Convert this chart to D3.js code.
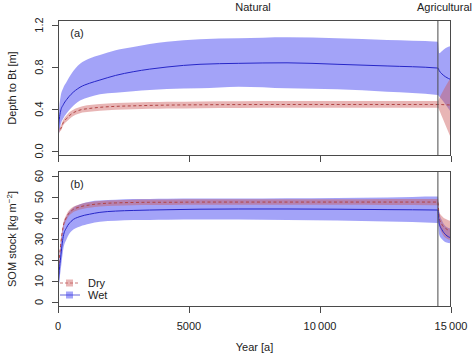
<!DOCTYPE html>
<html><head><meta charset="utf-8">
<script src="https://cdn.jsdelivr.net/npm/d3@7"></script>
<style>body{margin:0;background:#fff}svg{display:block;font-family:"Liberation Sans",Arial,sans-serif}</style>
</head><body>
<script>
const years = [0,20,50,100,200,330,500,840,1200,1600,2200,2870,3500,4160,5420,6900,8740,10650,12560,14500,14550,14650,14800,15000];
// Depth to Bt [m]
const wetDepthMean  = [0,0.20,0.30,0.38,0.44,0.49,0.54,0.607,0.645,0.676,0.72,0.755,0.78,0.80,0.826,0.835,0.84,0.826,0.81,0.79,0.765,0.735,0.705,0.68];
const wetDepthUpper = [0,0.30,0.42,0.52,0.60,0.66,0.73,0.83,0.88,0.914,0.96,0.99,1.02,1.04,1.064,1.073,1.083,1.073,1.057,1.04,0.93,0.95,0.98,1.0];
const wetDepthLower = [0,0.12,0.18,0.25,0.31,0.36,0.41,0.48,0.515,0.54,0.555,0.57,0.58,0.59,0.597,0.612,0.597,0.587,0.565,0.533,0.52,0.49,0.44,0.37];
const dryDepthMean  = [0,0.17,0.20,0.21,0.27,0.31,0.35,0.39,0.405,0.416,0.425,0.43,0.434,0.437,0.44,0.442,0.443,0.443,0.443,0.443,0.443,0.442,0.44,0.438];
const dryDepthUpper = [0,0.18,0.215,0.235,0.295,0.34,0.38,0.42,0.437,0.448,0.457,0.462,0.466,0.469,0.472,0.474,0.475,0.475,0.475,0.475,0.50,0.55,0.62,0.70];
const dryDepthLower = [0,0.16,0.185,0.19,0.245,0.28,0.32,0.36,0.373,0.384,0.393,0.398,0.402,0.405,0.408,0.41,0.411,0.411,0.411,0.411,0.39,0.33,0.24,0.12];
// SOM stock [kg m-2]
const wetSomMean  = [0,9,15,21,31.2,35.5,38.4,40.7,41.8,42.7,43.3,43.6,43.8,43.95,44.2,44.3,44.3,44.2,44.0,43.8,37.5,34.5,32,30.5];
const wetSomUpper = [0,12,20,27.5,36.5,41,44,46.5,47.8,48.3,48.7,49,49.1,49.2,49.3,49.3,49.4,49.5,49.8,50.3,43,39,36,35];
const wetSomLower = [0,6,10,15,25,30,33.6,36,37.3,38.2,38.7,39,39.1,39.2,39.3,39.3,39.0,38.8,38.3,37.6,32,30,28.5,28];
const drySomMean  = [0,12,20,27,36,40.5,43.3,45.3,46.2,46.8,47.2,47.4,47.5,47.5,47.6,47.6,47.6,47.6,47.6,47.6,40,37,35,33.6];
const drySomUpper = [0,13,21.5,28.5,37.3,41.8,44.6,46.6,47.5,48.1,48.5,48.7,48.8,48.8,48.9,48.9,48.9,48.9,49.0,49.1,43,41,39.5,38.5];
const drySomLower = [0,11,18.5,25.5,34.7,39.2,42,44,44.9,45.5,45.9,46.1,46.2,46.2,46.3,46.3,46.3,46.3,46.2,46.1,37,33,30.5,29.5];

const xTicks = [0,5000,10000,15000];
const xTickLabels = ["0","5000","10\u2009000","15\u2009000"];
const depthTicks = [0,0.4,0.8,1.2];
const depthTickLabels = ["0.0","0.4","0.8","1.2"];
const somTicks = [0,10,20,30,40,50,60];
const landUseBreak = 14500;
const periods = ["Natural","Agricultural"];
const seriesNames = ["Dry","Wet"];

const W=474,H=356;
const L=58,R=451;
const panels=[{top:20,bot:156},{top:171,bot:307}];
const blueFill="rgba(50,50,240,0.45)", pinkFill="rgba(205,92,92,0.45)";
const blueLine="#2626c8", redLine="#b04444", boxCol="#4a4a4a";

const svg=d3.select("body").append("svg").attr("width",W).attr("height",H);
const x=d3.scaleLinear().domain([0,15000]).range([L,R]);

function drawPanel(p, yDom, ticks, tickLabels, wet, dry, label, idx){
  const span=yDom[1]-yDom[0], pad=span*0.04;
  const y=d3.scaleLinear().domain([yDom[0]-pad,yDom[1]+pad]).range([p.bot,p.top]);
  const g=svg.append("g");
  const cid="clip"+idx;
  svg.append("clipPath").attr("id",cid).append("rect").attr("x",L).attr("y",p.top).attr("width",R-L).attr("height",p.bot-p.top);
  const d=g.append("g").attr("clip-path",`url(#${cid})`);
  const area=(lo,hi)=>d3.area().x((v,i)=>x(years[i])).y0((v,i)=>y(lo[i])).y1((v,i)=>y(hi[i])).curve(d3.curveMonotoneX)(years);
  const line=(m)=>d3.line().x((v,i)=>x(years[i])).y((v,i)=>y(m[i])).curve(d3.curveMonotoneX)(years);
  d.append("path").attr("d",area(wet.lo,wet.hi)).attr("fill",blueFill);
  d.append("path").attr("d",area(dry.lo,dry.hi)).attr("fill",pinkFill);
  d.append("path").attr("d",line(dry.m)).attr("fill","none").attr("stroke",redLine).attr("stroke-width",1).attr("stroke-dasharray","3,2.5");
  d.append("path").attr("d",line(wet.m)).attr("fill","none").attr("stroke",blueLine).attr("stroke-width",1);
  // break line
  g.append("line").attr("x1",x(landUseBreak)).attr("x2",x(landUseBreak)).attr("y1",p.top).attr("y2",p.bot).attr("stroke",boxCol).attr("stroke-width",1);
  // box
  g.append("rect").attr("x",L+0.5).attr("y",p.top+0.5).attr("width",R-L-1).attr("height",p.bot-p.top-1).attr("fill","none").attr("stroke",boxCol).attr("stroke-width",1);
  // y axis
  const ya=g.append("g");
  ticks.forEach((t,i)=>{
    const yy=Math.round(y(t))+0.5;
    ya.append("line").attr("x1",L-6).attr("x2",L).attr("y1",yy).attr("y2",yy).attr("stroke",boxCol);
    ya.append("text").attr("transform",`translate(43,${y(t)}) rotate(-90)`).attr("text-anchor","middle").attr("font-size",11).attr("fill","#222").text(tickLabels[i]);
  });
  // x ticks
  xTicks.forEach(t=>{
    const xx=Math.round(x(t))+0.5;
    g.append("line").attr("x1",xx).attr("x2",xx).attr("y1",p.bot).attr("y2",p.bot+6).attr("stroke",boxCol);
  });
  g.append("text").attr("x",77).attr("y",p.top+17).attr("text-anchor","middle").attr("font-size",11).attr("fill","#222").text(label);
  return {g,y};
}

const p1=drawPanel(panels[0],[0,1.2],depthTicks,depthTickLabels,
  {m:wetDepthMean,hi:wetDepthUpper,lo:wetDepthLower},{m:dryDepthMean,hi:dryDepthUpper,lo:dryDepthLower},"(a)",1);
const p2=drawPanel(panels[1],[0,60],somTicks,somTicks.map(String),
  {m:wetSomMean,hi:wetSomUpper,lo:wetSomLower},{m:drySomMean,hi:drySomUpper,lo:drySomLower},"(b)",2);

// y titles
svg.append("text").attr("transform",`translate(16,${(panels[0].top+panels[0].bot)/2}) rotate(-90)`).attr("text-anchor","middle").attr("font-size",11).attr("fill","#222").text("Depth to Bt [m]");
const t2=svg.append("text").attr("transform",`translate(16,${(panels[1].top+panels[1].bot)/2}) rotate(-90)`).attr("text-anchor","middle").attr("font-size",11).attr("fill","#222");
t2.append("tspan").text("SOM stock [kg m");
t2.append("tspan").attr("dy",-4).attr("font-size",8).text("\u22122");
t2.append("tspan").attr("dy",4).text("]");

// x labels
xTicks.forEach((t,i)=>{
  svg.append("text").attr("x",x(t)).attr("y",330).attr("text-anchor","middle").attr("font-size",11).attr("fill","#222").text(xTickLabels[i]);
});
svg.append("text").attr("x",(L+R)/2).attr("y",351).attr("text-anchor","middle").attr("font-size",11).attr("fill","#222").text("Year [a]");

// period labels
svg.append("text").attr("x",253).attr("y",11).attr("text-anchor","middle").attr("font-size",11).attr("fill","#222").text(periods[0]);
svg.append("text").attr("x",(x(landUseBreak)+R)/2).attr("y",11).attr("text-anchor","middle").attr("font-size",11).attr("fill","#222").text(periods[1]);

// legend
const leg=svg.append("g");
const legY=[283,295];
[[redLine,pinkFill,"3,2"],[blueLine,blueFill,null]].forEach((s,i)=>{
  const ln=leg.append("line").attr("x1",60).attr("x2",80).attr("y1",legY[i]).attr("y2",legY[i]).attr("stroke",s[0]).attr("stroke-width",1).attr("opacity",0.7);
  if(s[2]) ln.attr("stroke-dasharray",s[2]);
  leg.append("rect").attr("x",66).attr("y",legY[i]-3.5).attr("width",7).attr("height",7).attr("fill",s[1]);
  leg.append("text").attr("x",88).attr("y",legY[i]+4).attr("font-size",11).attr("fill","#222").text(seriesNames[i]);
});
</script>
</body></html>
